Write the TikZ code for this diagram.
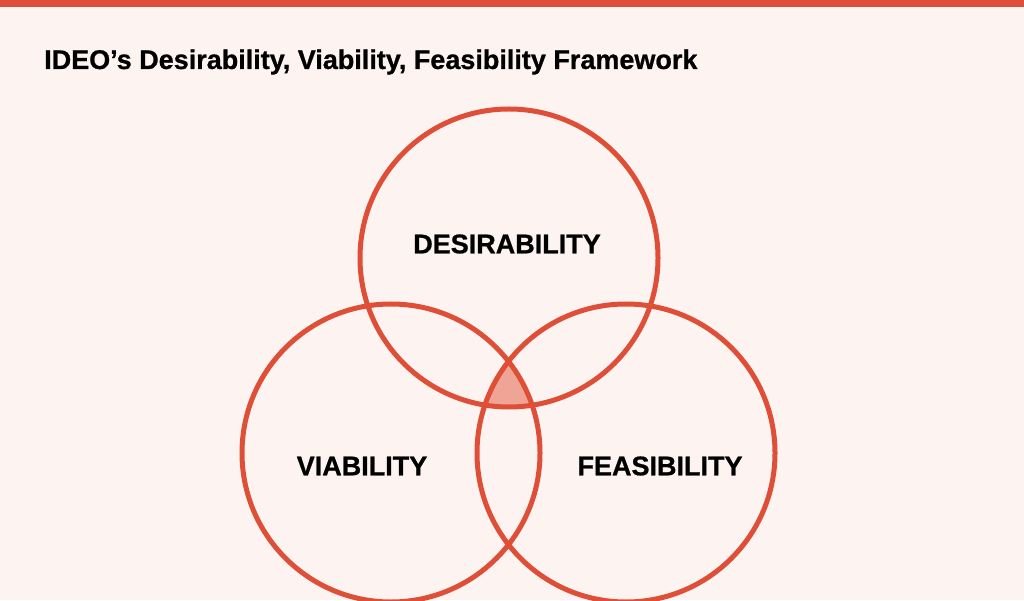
\documentclass[tikz,border=0pt]{standalone}
\usepackage{fontspec}
\setmainfont{Liberation Sans}[FakeBold=0.8]
\definecolor{bg}{HTML}{FDF4F2}
\definecolor{ring}{HTML}{DF4F37}
\definecolor{core}{HTML}{EFA595}
\begin{document}
\begin{tikzpicture}[x=1pt,y=1pt,
  ringc/.style={circle,draw=ring,line width=5pt,minimum size=298pt,inner sep=0pt},
  lbl/.style={font=\fontsize{27}{31}\selectfont\bfseries,text=black}]
\useasboundingbox (0,0) rectangle (1024,600);
\fill[bg] (0,0) rectangle (1024,600);
\fill[ring] (0,593) rectangle (1024,600);
\begin{scope}
\clip (509,342) circle (149);
\clip (391,147) circle (149);
\fill[core] (626,147) circle (149);
\end{scope}
\node[ringc] (d) at (509,342) {};
\node[ringc] (v) at (391,147) {};
\node[ringc] (f) at (626,147) {};
\node[lbl] (dl) at (507,356) {DESIRABILITY};
\node[lbl] (vl) at (362,134) {VIABILITY};
\node[lbl] (fl) at (660,134) {FEASIBILITY};
\node[lbl,anchor=west,inner sep=0pt] (t) at (44,538) {IDEO’s Desirability, Viability, Feasibility Framework};
\end{tikzpicture}
\end{document}
